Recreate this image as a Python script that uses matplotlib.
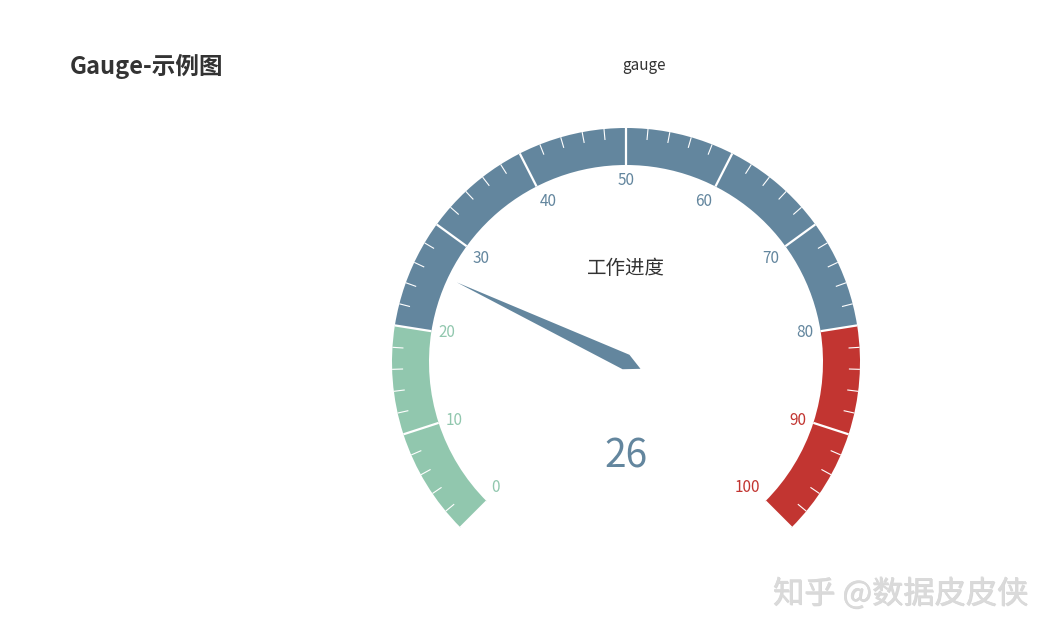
import numpy as np
import matplotlib
matplotlib.use('Agg')
import matplotlib.pyplot as plt
from matplotlib.patches import Wedge, Polygon
import matplotlib.patheffects as pe

plt.rcParams['font.family'] = ['Noto Sans CJK SC', 'DejaVu Sans']

# data
value = 26
series_name = '工作进度'
gauge_min, gauge_max = 0, 100
seg_stops = [0.2, 0.8, 1.0]
seg_colors = ['#91c7ae', '#63869e', '#c23531']
major_ticks = list(range(0, 101, 10))
minor_ticks = [v for v in range(0, 101, 2) if v % 10 != 0]

W, H = 1055, 635
fig = plt.figure(figsize=(W / 100, H / 100), dpi=100)
ax = fig.add_axes([0, 0, 1, 1])
ax.set_xlim(0, W)
ax.set_ylim(0, H)
ax.axis('off')

# layout (pixels, y up)
cx, cy = 626, H - 362
r_out = 234
band = 37
start_ang, end_ang = 225, -45


def v2a(v):
    return start_ang - (v - gauge_min) / (gauge_max - gauge_min) * (start_ang - end_ang)


def color_of(v):
    frac = (v - gauge_min) / (gauge_max - gauge_min)
    for s, c in zip(seg_stops, seg_colors):
        if frac <= s + 1e-9:
            return c
    return seg_colors[-1]


# band segments
prev = 0.0
for s, c in zip(seg_stops, seg_colors):
    a1 = v2a(gauge_min + s * (gauge_max - gauge_min))
    a2 = v2a(gauge_min + prev * (gauge_max - gauge_min))
    ax.add_patch(Wedge((cx, cy), r_out, a1, a2, width=band, facecolor=c, edgecolor='none'))
    prev = s

# split lines
for v in major_ticks:
    a = np.radians(v2a(v))
    ax.plot([cx + r_out * np.cos(a), cx + (r_out - band) * np.cos(a)],
            [cy + r_out * np.sin(a), cy + (r_out - band) * np.sin(a)],
            color='white', lw=1.6, solid_capstyle='butt')

# minor ticks
for v in minor_ticks:
    a = np.radians(v2a(v))
    ax.plot([cx + r_out * np.cos(a), cx + (r_out - 11) * np.cos(a)],
            [cy + r_out * np.sin(a), cy + (r_out - 11) * np.sin(a)],
            color='white', lw=0.8, solid_capstyle='butt')

# axis labels
r_lab = 190
for v in major_ticks:
    a = np.radians(v2a(v))
    ux, uy = np.cos(a), np.sin(a)
    ha = 'left' if ux < -0.4 else ('right' if ux > 0.4 else 'center')
    va = 'top' if uy > 0.4 else ('bottom' if uy < -0.4 else 'center')
    ax.text(cx + r_lab * ux, cy + r_lab * uy, str(v), ha=ha, va=va,
            fontsize=11, color=color_of(v))

# pointer
a = np.radians(v2a(value))
d = np.array([np.cos(a), np.sin(a)])
p = np.array([np.cos(a - np.pi / 2), np.sin(a - np.pi / 2)])
c = np.array([cx, cy])
plen, pw = 187, 8
pts = [c - d * pw * 2, c + p * pw, c + d * plen, c - p * pw]
ax.add_patch(Polygon(pts, closed=True, facecolor=color_of(value), edgecolor='none'))

# texts
ax.text(cx, H - 269, series_name, ha='center', va='center', fontsize=14, color='#333333')
ax.text(cx, H - 457, str(value), ha='center', va='center', fontsize=28, color=color_of(value))
ax.text(644, H - 65, 'gauge', ha='center', va='center', fontsize=11, color='#333333')
ax.text(70, H - 66, 'Gauge-示例图', ha='left', va='center', fontsize=17,
        fontweight='bold', color='#333333')
ax.text(1028, H - 594, '知乎 @数据皮皮侠', ha='right', va='center', fontsize=22.5,
        fontweight='light', color='#dadada',
        path_effects=[pe.withSimplePatchShadow(offset=(0.6, -0.6), shadow_rgbFace='#a8a8a8', alpha=0.45),
                      pe.Normal()])

fig.savefig('out.png', dpi=100, facecolor='white')
